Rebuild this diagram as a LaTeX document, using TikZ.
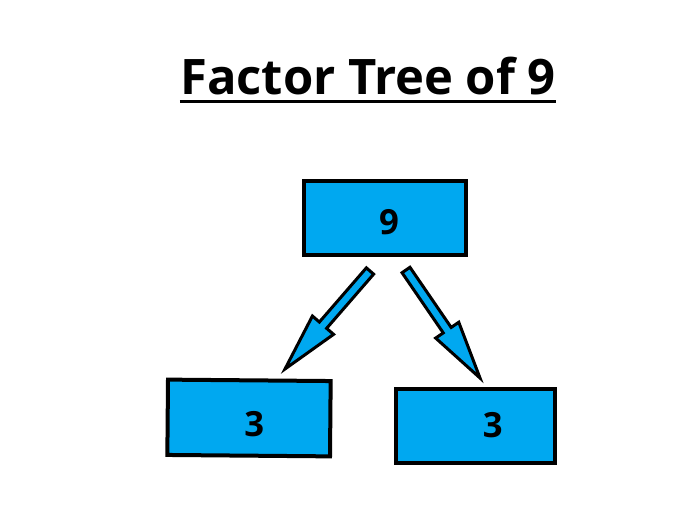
\documentclass[tikz,border=0pt]{standalone}
\usepackage{fontspec}
\setmainfont{Open Sans}
\usetikzlibrary{calc}
\definecolor{boxblue}{RGB}{0,168,240}
\tikzset{
  box/.style   ={rectangle, draw=black, line width=3pt, fill=boxblue, inner sep=0pt},
  num/.style   ={font=\fontsize{26}{30}\selectfont\bfseries, inner sep=0pt},
  ttl/.style   ={font=\fontsize{36.7}{44}\selectfont\bfseries, inner sep=0pt},
  blockarrow/.style={draw=black, line width=2.25pt, fill=boxblue, line join=miter,
    to path={
      ($(\tikztostart)!3.6pt!90:(\tikztotarget)$)
      -- ($ ($(\tikztotarget)!43.5pt!(\tikztostart)$)!3.6pt!90:(\tikztotarget) $)
      -- ($ ($(\tikztotarget)!43.5pt!(\tikztostart)$)!10.5pt!90:(\tikztotarget) $)
      -- (\tikztotarget)
      -- ($ ($(\tikztotarget)!43.5pt!(\tikztostart)$)!10.5pt!-90:(\tikztotarget) $)
      -- ($ ($(\tikztotarget)!43.5pt!(\tikztostart)$)!3.6pt!-90:(\tikztotarget) $)
      -- ($(\tikztostart)!3.6pt!-90:(\tikztotarget)$)
      -- cycle}}
}
\begin{document}
\begin{tikzpicture}[x=0.75pt,y=-0.75pt]
\useasboundingbox[fill=white] (0,0) rectangle (674,516);

% Title
\node[ttl, anchor=base] (title) at (368,95) {Factor Tree of 9};
\draw[line width=2.25pt] ([yshift=-5pt]title.base west) -- ([yshift=-5pt]title.base east);

% Boxes
\node[box, minimum width=121pt, minimum height=55.5pt] (top) at (385,218) {};
\node[box, minimum width=122pt, minimum height=56.5pt, rotate=-0.5] (left) at (249,418) {};
\node[box, minimum width=119pt, minimum height=55.5pt] (right) at (475.5,426) {};

\node[num] (n9) at ([xshift=3pt,yshift=-3pt]top.center) {9};
\node[num] (n3a) at ([xshift=4pt,yshift=-4.5pt]left.center) {3};
\node[num] (n3b) at ([xshift=13pt,yshift=0.75pt]right.center) {3};

% Arrows
\coordinate (la) at (370,271);
\coordinate (lb) at (285,369);
\coordinate (ra) at (406,270);
\coordinate (rb) at (480,378);
\draw[blockarrow] (la) to (lb);
\draw[blockarrow] (ra) to (rb);
\end{tikzpicture}
\end{document}
